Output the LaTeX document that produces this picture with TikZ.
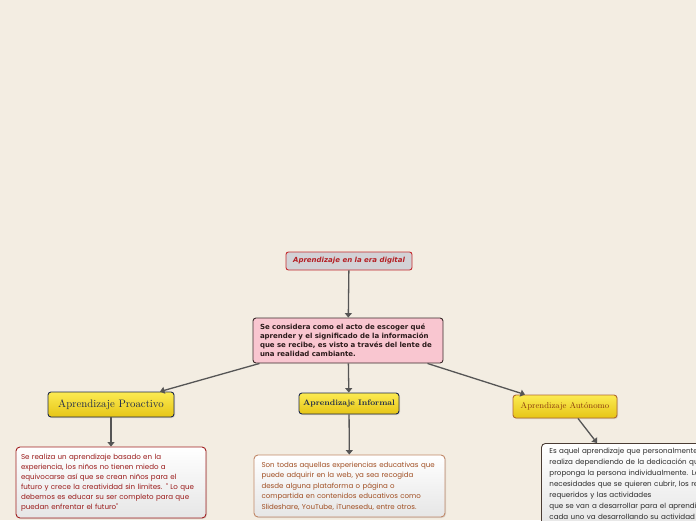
\documentclass[tikz,border=0pt]{standalone}
\usepackage{fontspec}
\usetikzlibrary{arrows.meta,shadows}
\newfontfamily\dvfont{DejaVu Sans}
\newfontfamily\popfont{Poppins}
\definecolor{bgc}{HTML}{F3EDE2}
\definecolor{arrc}{HTML}{555555}
\definecolor{topfill}{HTML}{D2D2D6}
\definecolor{topline}{HTML}{C42A2E}
\definecolor{toptext}{HTML}{B42025}
\definecolor{mainfill}{HTML}{F9C6D0}
\definecolor{mainline}{HTML}{3A2A2A}
\definecolor{maintext}{HTML}{2A1A1A}
\definecolor{yeltop}{HTML}{FCEB52}
\definecolor{yelbot}{HTML}{E6C516}
\definecolor{navy}{HTML}{1E2A4A}
\definecolor{brownline}{HTML}{B06A30}
\definecolor{browntext}{HTML}{8A3A10}
\definecolor{redline}{HTML}{A02020}
\definecolor{redtext}{HTML}{9A1A1A}
\definecolor{tanline}{HTML}{C08868}
\definecolor{tantext}{HTML}{A04E22}
\definecolor{darkline}{HTML}{4A3C34}
\definecolor{darktext}{HTML}{2A2A2A}
\definecolor{boxbot}{HTML}{E6E6E6}
\tikzset{
  conn/.style={draw=arrc, line width=1.3pt, -{Triangle[width=7pt,length=4.5pt]}},
  topbox/.style={draw=topline, line width=0.9pt, fill=topfill, rounded corners=2.5pt, minimum width=126pt, minimum height=18pt, inner sep=0pt,
     font=\dvfont\bfseries\itshape\fontsize{7}{8}\selectfont, text=toptext},
  mainbox/.style={draw=mainline, line width=0.9pt, fill=mainfill, rounded corners=3pt, minimum width=190pt, minimum height=45pt, inner sep=0pt,
     text width=176pt, align=left, font=\dvfont\bfseries\fontsize{7}{9}\selectfont, text=maintext},
  yelbox/.style={line width=0.9pt, top color=yeltop, bottom color=yelbot, rounded corners=3pt, inner sep=0pt, drop shadow={opacity=0.25, shadow xshift=1pt, shadow yshift=-1pt}},
  txtbox/.style={line width=0.9pt, top color=white, bottom color=boxbot, rounded corners=4pt, inner sep=0pt, align=left, drop shadow={opacity=0.2, shadow xshift=1pt, shadow yshift=-1pt}},
}
\begin{document}
\begin{tikzpicture}[x=1pt,y=-1pt]
\path[use as bounding box, clip] (0,0) rectangle (696,520);
\fill[bgc] (0,0) rectangle (696,520);

\node[topbox] (top) at (349,261) {Aprendizaje en la era digital};
\node[mainbox] (main) at (348,340.5) {Se considera como el acto de escoger qué\\aprender y el significado de la información\\que se recibe, es visto a través del lente de\\una realidad cambiante.};

\node[yelbox, draw=navy, minimum width=126pt, minimum height=25pt, text=navy, font=\fontsize{10.8}{12}\selectfont] (pro) at (111,404.5) {Aprendizaje Proactivo};
\node[yelbox, draw=navy, minimum width=100pt, minimum height=21pt, text=navy, font=\bfseries\fontsize{8}{10}\selectfont] (inf) at (349,403.5) {Aprendizaje Informal};
\node[yelbox, draw=brownline, minimum width=104pt, minimum height=23pt, text=browntext, font=\fontsize{8.5}{10}\selectfont] (aut) at (565,406.5) {Aprendizaje Autónomo};

\node[txtbox, draw=redline, text=redtext, minimum width=190pt, minimum height=71pt, text width=180pt, font=\popfont\fontsize{7.1}{10}\selectfont] (protxt) at (111,482.5) {Se realiza un aprendizaje basado en la\\experiencia, los niños no tienen miedo a\\equivocarse así que se crean niños para el\\futuro y crece la creatividad sin limites. " Lo que\\debemos es educar su ser completo para que\\puedan enfrentar el futuro"};
\node[txtbox, draw=tanline, text=tantext, minimum width=191pt, minimum height=62pt, text width=176pt, font=\popfont\fontsize{7.05}{10.5}\selectfont] (inftxt) at (349.5,486) {Son todas aquellas experiencias educativas que\\puede adquirir en la web, ya sea recogida\\desde alguna plataforma o página o\\compartida en contenidos educativos como\\Slideshare, YouTube, iTunesedu, entre otros.};
\node[txtbox, draw=darkline, text=darktext, anchor=north west, minimum width=230pt, text width=215pt, inner ysep=5pt, inner xsep=8pt, font=\popfont\fontsize{7.15}{11}\selectfont] (auttxt) at (541,443) {Es aquel aprendizaje que personalmente se\\realiza dependiendo de la dedicación que\\proponga la persona individualmente. Los\\necesidades que se quieren cubrir, los recursos\\requeridos y las actividades\\que se van a desarrollar para el aprendizaje,\\cada uno va desarrollando su actividad};

\draw[conn] (top) -- (main);
\draw[conn] ([xshift=7pt]main.south west) -- ([xshift=49pt]pro.north);
\draw[conn] (main) -- (inf);
\draw[conn] ([xshift=-16pt]main.south east) -- ([xshift=-40pt]aut.north);
\draw[conn] (pro) -- (protxt);
\draw[conn] (inf) -- (inftxt);
\draw[conn] ([xshift=13pt]aut.south) -- ([xshift=56pt]auttxt.north west);
\end{tikzpicture}
\end{document}
